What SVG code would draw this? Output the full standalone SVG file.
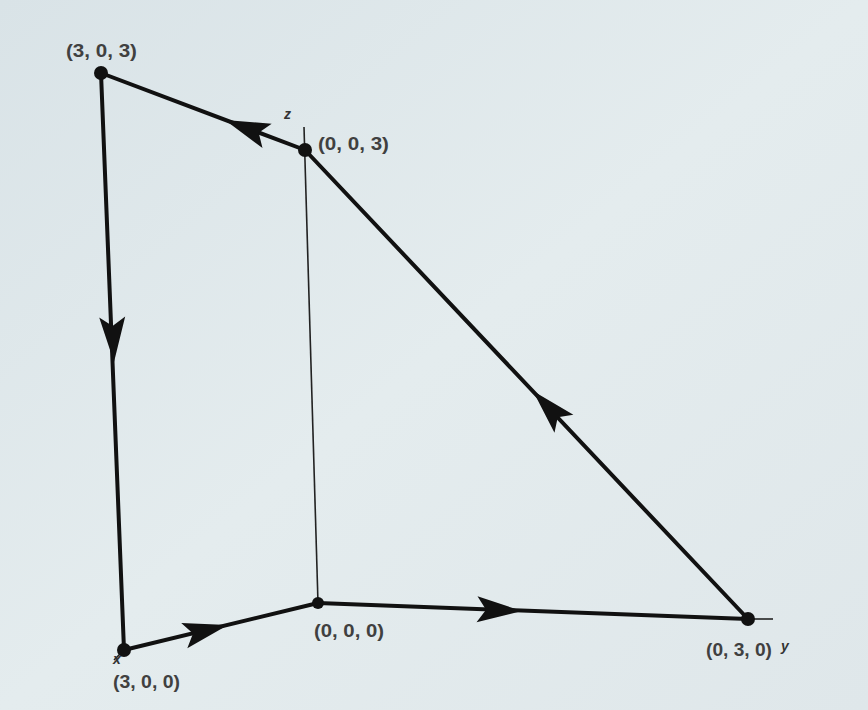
<svg xmlns="http://www.w3.org/2000/svg" xmlns:xlink="http://www.w3.org/1999/xlink" width="868" height="710" viewBox="0 0 868 710">
<defs>
<linearGradient id="bg" x1="0" y1="0" x2="1" y2="1">
<stop offset="0" stop-color="#d9e3e7"/>
<stop offset="0.5" stop-color="#e4ecee"/>
<stop offset="1" stop-color="#dfe7ea"/>
</linearGradient>
<path id="ah" d="M0,0 L-45,-13 L-36,0 L-45,13 Z" fill="#111"/>
</defs>
<style>
.path{stroke:#111;stroke-width:4;fill:none;stroke-linecap:round}
.axis{stroke:#222;stroke-width:1.6;fill:none}
.dot{fill:#111}
.lbl{font-family:"Liberation Sans",Arial,sans-serif;font-size:19px;font-weight:bold;fill:#404040}
.ax{font-family:"Liberation Sans",Arial,sans-serif;font-size:14px;font-style:italic;font-weight:bold;fill:#333}
</style>
<rect width="868" height="710" fill="url(#bg)"/>
<g id="connectors">
<line class="axis" x1="304" y1="127" x2="318" y2="603"/>
<line class="axis" x1="748" y1="619" x2="773" y2="619"/>
<line class="axis" x1="124" y1="650" x2="114" y2="660"/>
<line class="path" x1="305" y1="150" x2="101" y2="73"/>
<line class="path" x1="101" y1="73" x2="124" y2="650"/>
<line class="path" x1="124" y1="650" x2="318" y2="603"/>
<line class="path" x1="318" y1="603" x2="748" y2="619"/>
<line class="path" x1="748" y1="619" x2="305" y2="150"/>
<use xlink:href="#ah" transform="translate(225,120) rotate(200.7)"/>
<use xlink:href="#ah" transform="translate(114,362) rotate(87.7)"/>
<use xlink:href="#ah" transform="translate(228,625) rotate(-13.6)"/>
<use xlink:href="#ah" transform="translate(522,611) rotate(2.1)"/>
<use xlink:href="#ah" transform="translate(533,391) rotate(226.6)"/>
</g>
<g id="n303">
<circle class="dot" cx="101" cy="73" r="7"/>
<text class="lbl" x="66" y="57" textLength="71" lengthAdjust="spacingAndGlyphs">(3, 0, 3)</text>
</g>
<g id="n003">
<circle class="dot" cx="305" cy="150" r="7"/>
<text class="lbl" x="318" y="150" textLength="71" lengthAdjust="spacingAndGlyphs">(0, 0, 3)</text>
<text class="ax" x="284" y="119" font-size="13">z</text>
</g>
<g id="n300">
<circle class="dot" cx="124" cy="650" r="7"/>
<text class="lbl" x="113" y="688" textLength="67" lengthAdjust="spacingAndGlyphs">(3, 0, 0)</text>
<text class="ax" x="113" y="664" font-size="12">x</text>
</g>
<g id="n000">
<circle class="dot" cx="318" cy="603" r="6"/>
<text class="lbl" x="314" y="637" textLength="70" lengthAdjust="spacingAndGlyphs">(0, 0, 0)</text>
</g>
<g id="n030">
<circle class="dot" cx="748" cy="619" r="7"/>
<text class="lbl" x="706" y="656" textLength="66" lengthAdjust="spacingAndGlyphs">(0, 3, 0)</text>
<text class="ax" x="781" y="651" font-size="17">y</text>
</g>
</svg>
